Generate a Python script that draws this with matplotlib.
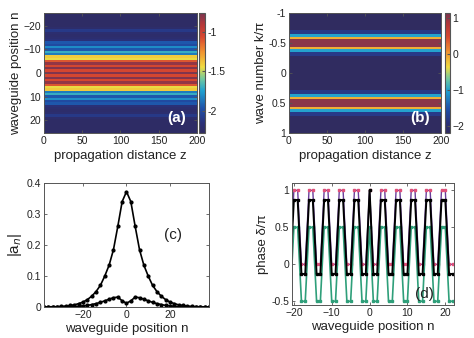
import numpy as np
import matplotlib
matplotlib.use("Agg")
import matplotlib.pyplot as plt
from matplotlib.colors import LinearSegmentedColormap

plt.rcParams['font.family'] = ['Liberation Sans', 'DejaVu Sans']

# jet-like map with dark slate ends
kaart = LinearSegmentedColormap.from_list("tume_jet", [
    (0.00, '#302c60'), (0.08, '#2b3078'), (0.20, '#1f4fa8'),
    (0.35, '#1ea0d0'), (0.45, '#70c8a0'), (0.55, '#f0dc40'),
    (0.68, '#f09030'), (0.80, '#d84830'), (0.90, '#b83838'),
    (1.00, '#7a3550')])

# (a) stripe value for each waveguide n = -25..25
n_a = np.arange(-25, 26)
rida_a = [-2.25, -2.25, -2.25, -2.25, -2.25, -2.25, -2.22, -2.10, -2.20, -2.22,
          -2.20, -2.15, -1.95, -2.00, -1.80, -1.95, -1.70, -1.85, -1.40, -1.45,
          -1.10, -0.82, -1.05, -0.78, -1.05, -0.78, -1.05, -0.78, -1.05, -0.82,
          -1.10, -1.45, -1.40, -1.85, -1.70, -1.95, -1.80, -2.00, -1.95, -2.15,
          -2.20, -2.22, -2.20, -2.10, -2.22, -2.25, -2.25, -2.25, -2.25, -2.25,
          -2.25]

# (b) bands in k/pi (edges) and their values
k_servad = [-1, -0.71, -0.65, -0.605, -0.565, -0.435, -0.395, -0.35, -0.29,
            0.29, 0.35, 0.395, 0.435, 0.565, 0.605, 0.65, 0.71, 1]
riba_b = [-2.2, -1.8, -1.0, -0.1, 1.05, -0.1, -1.0, -1.8, -2.2,
          -1.8, -1.0, -0.1, 1.05, -0.1, -1.0, -1.8, -2.2]

# (c) |a_n| of both components
n_c = np.arange(-38, 39, 2)
a_suur = [0.0, 0.0005, 0.001, 0.001, 0.002, 0.003, 0.005, 0.007, 0.011, 0.016,
          0.024, 0.035, 0.05, 0.07, 0.10, 0.135, 0.185, 0.26, 0.34, 0.372,
          0.34, 0.26, 0.185, 0.135, 0.10, 0.07, 0.05, 0.035, 0.024, 0.016,
          0.011, 0.007, 0.005, 0.003, 0.002, 0.001, 0.001, 0.0005, 0.0]
a_vaike = [0.0, 0.0, 0.0, 0.0, 0.0, 0.0, 0.0, 0.001, 0.002, 0.004,
           0.005, 0.008, 0.011, 0.015, 0.02, 0.025, 0.03, 0.032, 0.02, 0.012,
           0.02, 0.032, 0.03, 0.025, 0.02, 0.015, 0.011, 0.008, 0.005, 0.004,
           0.002, 0.001, 0.0, 0.0, 0.0, 0.0, 0.0, 0.0, 0.0]

# (d) phases delta/pi, n = -22..22
n_d = np.arange(-22, 23)
faas_roosa = [0, 0, 1, 1, 0, 0, 1, 1, 0, 0, 1, 1, 0, 0, 1, 1, 0, 0, 1, 1, 0, 0,
              1,
              0, 0, 1, 1, 0, 0, 1, 1, 0, 0, 1, 1, 0, 0, 1, 1, 0, 0, 1, 1, 0, 0]
faas_must = [-0.13, -0.13, 0.87, 0.87, -0.13, -0.13, 0.87, 0.87, -0.13, -0.13,
             0.87, 0.87, -0.13, -0.13, 0.87, 0.87, -0.13, -0.13, 0.87, 0.87,
             -0.13, -0.13, 1.0, -0.13, -0.13, 0.87, 0.87, -0.13, -0.13, 0.87,
             0.87, -0.13, -0.13, 0.87, 0.87, -0.13, -0.13, 0.87, 0.87, -0.13,
             -0.13, 0.87, 0.87, -0.13, -0.13]
faas_roheline = [-0.5, -0.5, 0.5, 0.5, -0.5, -0.5, 0.5, 0.5, -0.5, -0.5,
                 0.5, 0.5, -0.5, -0.5, 0.5, 0.5, -0.5, -0.5, 0.5, 0.5,
                 -0.5, -0.5, 0.5, -0.5, -0.5, 0.5, 0.5, -0.5, -0.5, 0.5,
                 0.5, -0.5, -0.5, 0.5, 0.5, -0.5, -0.5, 0.5, 0.5, -0.5,
                 -0.5, 0.5, 0.5, -0.5, -0.5]

tekst = '#222222'
raam = '#555555'
silt = 9.5
ticks = 7.5


def kujunda(ax):
    for s in ax.spines.values():
        s.set_color(raam)
        s.set_linewidth(0.7)
    ax.tick_params(direction='in', top=True, right=True, length=2.5,
                   width=0.6, colors=raam, labelcolor=tekst, labelsize=ticks, pad=2)


fig = plt.figure(figsize=(4.74, 3.38), dpi=100)

# ---- (a)
ax_a = fig.add_axes([0.0928, 0.6065, 0.3228, 0.355])
pilt_a = ax_a.imshow(np.array(rida_a)[:, None], cmap=kaart, vmin=-2.28, vmax=-0.76,
                     extent=[0, 200, n_a[-1] + 0.5, n_a[0] - 0.5], aspect='auto',
                     interpolation='nearest')
ax_a.set_xticks([0, 50, 100, 150, 200])
ax_a.set_yticks([-20, -10, 0, 10, 20])
kujunda(ax_a)
ax_a.set_xlabel('propagation distance z', fontsize=silt, color=tekst, labelpad=3)
ax_a.set_ylabel('waveguide position n', fontsize=silt, color=tekst, labelpad=1)
ax_a.text(0.93, 0.07, '(a)', transform=ax_a.transAxes, ha='right', va='bottom',
          color='white', fontsize=11, fontweight='bold')
cax_a = fig.add_axes([0.4198, 0.6065, 0.0127, 0.355])
cb_a = fig.colorbar(pilt_a, cax=cax_a, ticks=[-1, -1.5, -2])
cb_a.ax.set_yticklabels(['-1', '-1.5', '-2'])
cb_a.outline.set_edgecolor(raam)
cb_a.ax.tick_params(direction='in', length=2, colors=raam, labelcolor=tekst,
                    labelsize=ticks, pad=1.5)

# ---- (b)
ax_b = fig.add_axes([0.6097, 0.6065, 0.3207, 0.355])
pilt_b = ax_b.pcolormesh([0, 200], k_servad, np.array(riba_b)[:, None], cmap=kaart,
                         vmin=-2.2, vmax=1.15, shading='flat')
ax_b.set_xlim(0, 200)
ax_b.set_ylim(1, -1)
ax_b.set_xticks([0, 50, 100, 150, 200])
ax_b.set_yticks([-1, -0.5, 0, 0.5, 1])
ax_b.set_yticklabels(['-1', '-0.5', '0', '0.5', '1'])
kujunda(ax_b)
ax_b.set_xlabel('propagation distance z', fontsize=silt, color=tekst, labelpad=3)
ax_b.set_ylabel('wave number k/π', fontsize=silt, color=tekst, labelpad=1)
ax_b.text(0.93, 0.07, '(b)', transform=ax_b.transAxes, ha='right', va='bottom',
          color='white', fontsize=11, fontweight='bold')
cax_b = fig.add_axes([0.9388, 0.6065, 0.0116, 0.355])
cb_b = fig.colorbar(pilt_b, cax=cax_b, ticks=[1, 0, -1, -2])
cb_b.outline.set_edgecolor(raam)
cb_b.ax.tick_params(direction='in', length=2, colors=raam, labelcolor=tekst,
                    labelsize=ticks, pad=1.5)

# ---- (c)
ax_c = fig.add_axes([0.0928, 0.0917, 0.3481, 0.3669])
ax_c.plot(n_c, a_suur, '-', color='k', lw=1.2, marker='o', ms=2)
ax_c.plot(n_c, a_vaike, '-', color='k', lw=1.2, marker='o', ms=2)
ax_c.set_xlim(-38, 38)
ax_c.set_ylim(0, 0.4)
ax_c.set_xticks([-20, 0, 20])
ax_c.set_yticks([0, 0.1, 0.2, 0.3, 0.4])
ax_c.set_yticklabels(['0', '0.1', '0.2', '0.3', '0.4'])
kujunda(ax_c)
ax_c.set_xlabel('waveguide position n', fontsize=silt, color=tekst, labelpad=2)
ax_c.set_ylabel('|a$_n$|', fontsize=11, color=tekst, labelpad=2)
ax_c.text(0.78, 0.58, '(c)', transform=ax_c.transAxes, ha='center', va='center',
          color=tekst, fontsize=11)

# ---- (d)
ax_d = fig.add_axes([0.616, 0.0976, 0.3418, 0.361])
ax_d.plot(n_d, faas_roosa, '-', color='#6a3d9a', lw=1.0, marker='s', ms=2,
          mfc='#e0507a', mec='#e0507a')
ax_d.plot(n_d, faas_roheline, '-', color='#2f9f7a', lw=1.2, marker='s', ms=2)
ax_d.plot(n_d, faas_must, '-', color='k', lw=1.4, marker='s', ms=2)
ax_d.set_xlim(-20.5, 22.3)
ax_d.set_ylim(-0.55, 1.1)
ax_d.set_xticks([-20, -10, 0, 10, 20])
ax_d.set_yticks([-0.5, 0, 0.5, 1])
ax_d.set_yticklabels(['-0.5', '0', '0.5', '1'])
kujunda(ax_d)
ax_d.set_xlabel('waveguide position n', fontsize=silt, color=tekst, labelpad=2)
ax_d.set_ylabel('phase δ/π', fontsize=silt, color=tekst, labelpad=2)
ax_d.text(0.82, 0.09, '(d)', transform=ax_d.transAxes, ha='center', va='center',
          color=tekst, fontsize=11)

fig.savefig('out.png', dpi=100)
